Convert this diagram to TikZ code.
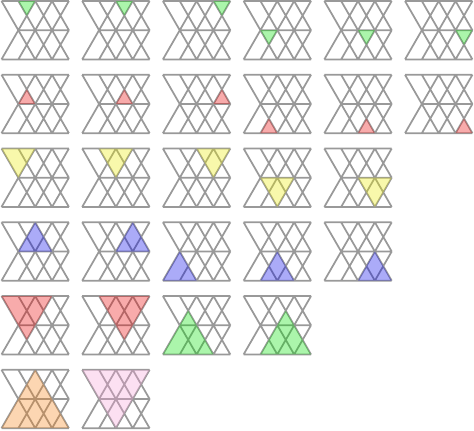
\documentclass[tikz,border=0pt]{standalone}
\definecolor{shadegreen}{RGB}{0,225,0}
\definecolor{shadered}{RGB}{235,0,0}
\definecolor{shadeyellow}{RGB}{235,235,0}
\definecolor{shadeblue}{RGB}{0,0,235}
\definecolor{shadeorange}{RGB}{245,130,20}
\definecolor{shadepink}{RGB}{245,160,215}
% one cell of the lattice, in units of a side (x) and a row height (y)
\newcommand\lattice{%
  \draw[gridline] (0,4) -- (4,4) (1,2) -- (4,2) (0,0) -- (4,0)
    (0,0) -- (2,4) (1,0) -- (3,4) (2,0) -- (4,4) (3,0) -- (4,2)
    (2,0) -- (0,4) (3,0) -- (1,4) (4,0) -- (2,4) (4,2) -- (3,4);}
\begin{document}
\begin{tikzpicture}[
  x=0.75pt, y=0.75pt,
  gridline/.style={draw=black!40, line width=1.3pt},
  shade/.style={fill opacity=0.33}
]
  \useasboundingbox (0,0) rectangle (474,431);
  \foreach \c/\r/\col/\a/\b/\k/\d in {
    0/0/shadegreen/1/4/1/-1, 1/0/shadegreen/2/4/1/-1, 2/0/shadegreen/3/4/1/-1,
    3/0/shadegreen/1/2/1/-1, 4/0/shadegreen/2/2/1/-1, 5/0/shadegreen/3/2/1/-1,
    0/1/shadered/1/2/1/1, 1/1/shadered/2/2/1/1, 2/1/shadered/3/2/1/1,
    3/1/shadered/1/0/1/1, 4/1/shadered/2/0/1/1, 5/1/shadered/3/0/1/1,
    0/2/shadeyellow/0/4/2/-1, 1/2/shadeyellow/1/4/2/-1, 2/2/shadeyellow/2/4/2/-1,
    3/2/shadeyellow/1/2/2/-1, 4/2/shadeyellow/2/2/2/-1,
    0/3/shadeblue/1/2/2/1, 1/3/shadeblue/2/2/2/1, 2/3/shadeblue/0/0/2/1,
    3/3/shadeblue/1/0/2/1, 4/3/shadeblue/2/0/2/1,
    0/4/shadered/0/4/3/-1, 1/4/shadered/1/4/3/-1,
    2/4/shadegreen/0/0/3/1, 3/4/shadegreen/1/0/3/1,
    0/5/shadeorange/0/0/4/1, 1/5/shadepink/0/4/4/-1}
  {
    \begin{scope}[shift={(1.5+80.7*\c, 371.6-73.76*\r)}, x=12.64pt, y=10.94pt]
      \lattice
      \fill[shade, fill=\col] (\a,\b) -- ++(\k,0) -- ++(-\k/2,\d*\k) -- cycle;
    \end{scope}
  }
\end{tikzpicture}
\end{document}
